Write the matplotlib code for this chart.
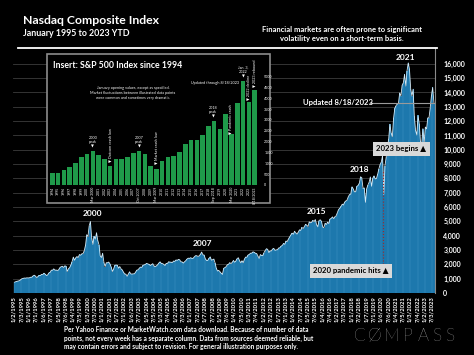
import numpy as np
import matplotlib
matplotlib.use("Agg")
import matplotlib.pyplot as plt
from matplotlib.patches import Rectangle
from matplotlib.lines import Line2D

plt.rcParams['font.family'] = ['Lato', 'DejaVu Sans']

# ---------------- data ----------------
start_year = 1995
nasdaq_1995_1999 = [755, 793, 817, 843, 865, 933, 1001, 1020, 1044, 1036, 1059, 1052,
                    1060, 1100, 1101, 1191, 1243, 1185, 1081, 1141, 1226, 1222, 1293, 1291,
                    1380, 1309, 1222, 1261, 1400, 1442, 1594, 1587, 1686, 1594, 1601, 1570,
                    1619, 1771, 1835, 1868, 1779, 1895, 1872, 1499, 1694, 1771, 1950, 2193,
                    2506, 2288, 2461, 2543, 2471, 2686, 2638, 2739, 2746, 2966, 3336, 4069]
nasdaq_2000_2004 = [3940, 4697, 4990, 3861, 3401, 3966, 3767, 4206, 3673, 3370, 2598, 2471,
                    2773, 2152, 1840, 2116, 2110, 2161, 2027, 1805, 1499, 1690, 1931, 1950,
                    1934, 1731, 1845, 1688, 1616, 1463, 1328, 1315, 1172, 1330, 1479, 1336,
                    1321, 1338, 1341, 1464, 1596, 1623, 1735, 1810, 1787, 1932, 1960, 2003,
                    2066, 2030, 1994, 1920, 1987, 2048, 1887, 1838, 1897, 1975, 2097, 2175]
nasdaq_2005_2009 = [2062, 2052, 1999, 1922, 2068, 2057, 2185, 2152, 2152, 2120, 2233, 2205,
                    2306, 2281, 2340, 2323, 2179, 2172, 2091, 2184, 2258, 2367, 2432, 2415,
                    2464, 2416, 2422, 2525, 2605, 2603, 2546, 2596, 2701, 2859, 2661, 2652,
                    2389, 2271, 2279, 2413, 2523, 2293, 2326, 2368, 2092, 1721, 1536, 1577,
                    1476, 1378, 1300, 1717, 1774, 1835, 1979, 2009, 2122, 2045, 2145, 2269]
nasdaq_2010_2014 = [2147, 2238, 2398, 2461, 2257, 2109, 2255, 2114, 2369, 2507, 2498, 2653,
                    2700, 2782, 2781, 2874, 2835, 2774, 2756, 2579, 2415, 2684, 2620, 2605,
                    2814, 2966, 3092, 3046, 2827, 2935, 2940, 3067, 3116, 2977, 3010, 3020,
                    3142, 3160, 3268, 3329, 3456, 3403, 3626, 3590, 3771, 3920, 4060, 4177,
                    4104, 4308, 4199, 4115, 4243, 4408, 4370, 4580, 4493, 4631, 4792, 4736]
nasdaq_2015_2019 = [4635, 4964, 4901, 4941, 5070, 4987, 5128, 4777, 4620, 5054, 5109, 5007,
                    4614, 4558, 4870, 4775, 4948, 4843, 5162, 5213, 5312, 5189, 5324, 5383,
                    5615, 5825, 5912, 6048, 6199, 6140, 6348, 6429, 6496, 6728, 6874, 6903,
                    7411, 7273, 7063, 7066, 7442, 7510, 7672, 8110, 8046, 7306, 7331, 6333,
                    7282, 7533, 7729, 8095, 7453, 8006, 8175, 7963, 7999, 8292, 8665, 8973]
nasdaq_2020_2023 = [9151, 9600, 6880, 8889, 9490, 10058, 10745, 11775, 11168, 10911, 12199, 12888,
                    13070, 13192, 13247, 13962, 13749, 14504, 14673, 15259, 14448, 15498, 16057, 15645,
                    14240, 13751, 14221, 12335, 11354, 11029, 12391, 11816, 10576, 10321, 11468, 10466,
                    11585, 11456, 12222, 12227, 12936, 13788, 14346, 13290]
nasdaq_monthly = (nasdaq_1995_1999 + nasdaq_2000_2004 + nasdaq_2005_2009 +
                  nasdaq_2010_2014 + nasdaq_2015_2019 + nasdaq_2020_2023)

label_years = list(range(1995, 2024))
label_days_jan = [2, 1, 6, 5, 4, 3, 1, 7, 6, 5, 3, 2, 1, 7, 5, 4, 3, 2, 7, 6, 5, 4, 2, 1, 7, 6, 4, 3, 2]
label_days_jul = [3, 1, 7, 6, 5, 3, 2, 1, 7, 5, 4, 3, 2, 7, 6, 5, 4, 2, 1, 7, 6, 4, 3, 2, 1, 6, 5, 4, 3]

y_ticks = list(range(0, 16001, 1000))

sp_labels = ["1994", "1995", "1996", "1997", "1998", "1999", "2000", "Mar 2000", "2001", "2002",
             "2003", "2004", "2005", "2006", "2007", "Oct 2007", "2008", "2009", "Mar 2009",
             "2010", "2011", "2012", "2013", "2014", "2015", "2016", "2017", "2018", "Sep 2018",
             "2019", "2020", "Mar 2020", "2021", "2022", "2023", "8/18/2023"]
sp_values = [538, 538, 692, 846, 1031, 1308, 1431, 1585, 1385, 1185,
             892, 1185, 1215, 1308, 1462, 1585, 1415, 877, 723,
             1123, 1308, 1338, 1523, 1877, 2077, 2077, 2308, 2738, 2954,
             2569, 3262, 2338, 3769, 4800, 3846, 4385]
sp_ticks = list(range(0, 5001, 500))

# ---------------- helpers ----------------
W, H = 474, 355
def fx(x): return x / W
def fy(y): return 1 - y / H

BLUE = '#1d78ad'
GREEN = '#1f9a4a'
FONTS = ['Lato', 'DejaVu Sans']

fig = plt.figure(figsize=(4.74, 3.55), dpi=100, facecolor='black')

# ---------------- main chart ----------------
ax = fig.add_axes([fx(13), fy(293), (435 - 13) / W, (293 - 48) / H])
ax.set_facecolor('black')
xs = start_year + np.arange(len(nasdaq_monthly)) / 12
vals = np.array(nasdaq_monthly)
ax.bar(xs, vals, width=1 / 12, align='edge', color=BLUE, linewidth=0, zorder=2)

tick_x = []
tick_lbl = []
for i, yr in enumerate(label_years):
    tick_x.append(yr + (label_days_jan[i] - 1) / 365)
    tick_lbl.append(f"1/{label_days_jan[i]}/{yr}")
    tick_x.append(yr + 0.5 + (label_days_jul[i] - 1) / 365)
    tick_lbl.append(f"7/{label_days_jul[i]}/{yr}")
tick_x = np.array(tick_x)
ax.vlines(tick_x, 0, np.interp(tick_x, xs + 1 / 24, vals), color='#5fa8d3', lw=0.35,
          alpha=0.55, zorder=2.5)
ax.plot(xs + 1 / 24, vals, color='#d4ebf8', lw=0.6, zorder=3)

ax.set_xlim(1994.93, 2023.70)
ax.set_ylim(0, 17100)
ax.yaxis.tick_right()
ax.set_yticks(y_ticks)
ax.set_yticklabels([f"{v:,}" for v in y_ticks])
ax.tick_params(axis='y', length=0, pad=6, labelsize=5, labelcolor='white')
ax.set_xticks(tick_x)
ax.set_xticklabels(tick_lbl, rotation=90)
ax.tick_params(axis='x', length=0, pad=2, labelsize=4.2, labelcolor='white')
for t in ax.get_yticklabels() + ax.get_xticklabels():
    t.set_fontweight('bold')
for s in ['top', 'left', 'bottom']:
    ax.spines[s].set_visible(False)
ax.spines['right'].set_color('#8a8a8a')
ax.spines['right'].set_linewidth(0.8)
ax.grid(axis='y', color='#3c3c3c', lw=0.6, zorder=0)
ax.set_axisbelow(True)

# ---------------- header ----------------
fig.text(fx(23), fy(20.5), "Nasdaq Composite Index", color='white', fontsize=8.8,
         fontweight='bold', va='center', ha='left')
fig.text(fx(23), fy(33.5), "January 1995 to 2023 YTD", color='white', fontsize=6.4,
         fontweight='bold', va='center', ha='left')
fig.text(fx(342), fy(29.5), "Financial markets are often prone to significant", color='white',
         fontsize=5.5, fontweight='bold', va='center', ha='center')
fig.text(fx(342), fy(38.7), "volatility even on a short-term basis.", color='white',
         fontsize=5.5, fontweight='bold', va='center', ha='center')
fig.add_artist(Line2D([fx(18), fx(437)], [fy(48), fy(48)], color='white', lw=1.3))

# ---------------- main annotations ----------------
for txt, px, py in [("2000", 92, 214), ("2007", 202, 244), ("2015", 316, 211),
                    ("2018", 359, 169), ("2021", 405, 57)]:
    fig.text(fx(px), fy(py), txt, color='white', fontsize=6, fontweight='bold',
             ha='center', va='center')
fig.text(fx(338), fy(102), "Updated 8/18/2023", color='white', fontsize=5.6,
         fontweight='bold', ha='center', va='center')
fig.add_artist(Line2D([fx(370), fx(434)], [fy(102.5), fy(102.5)], color='#9a9a9a', lw=0.8))

fig.text(fx(401.5), fy(149), "2023 begins \u25B2", color='black', fontsize=5.6,
         fontweight='bold', ha='center', va='center', family=FONTS,
         bbox=dict(boxstyle='square,pad=0.45', fc='#d9d9d9', ec='none'))
fig.add_artist(Line2D([fx(383), fx(383)], [fy(264), fy(170)], color='#a02828', lw=0.8,
                      linestyle=':', zorder=5))
fig.text(fx(351), fy(271), "2020 pandemic hits \u25B2", color='black', fontsize=5.6,
         fontweight='bold', ha='center', va='center', family=FONTS, zorder=6,
         bbox=dict(boxstyle='square,pad=0.45', fc='#d9d9d9', ec='none'))

# ---------------- inset ----------------
box = Rectangle((fx(47), fy(203)), (270 - 47) / W, (203 - 54) / H, transform=fig.transFigure,
                facecolor='black', edgecolor='#8c8c8c', lw=1.2, zorder=1)
fig.add_artist(box)

ax2 = fig.add_axes([fx(48.3), fy(185), (258.7 - 48.3) / W, (185 - 61.3) / H])
ax2.set_zorder(2)
ax2.patch.set_alpha(0)
ix = np.arange(len(sp_values))
ax2.bar(ix, sp_values, width=0.78, color=GREEN, linewidth=0)
ax2.set_xlim(-0.7, len(sp_values) - 0.3)
ax2.set_ylim(0, 5700)
ax2.yaxis.tick_right()
ax2.set_yticks(sp_ticks)
ax2.tick_params(axis='y', length=0, pad=4, labelsize=2.6, labelcolor='white')
ax2.set_xticks(ix)
ax2.set_xticklabels(sp_labels, rotation=90)
ax2.tick_params(axis='x', length=0, pad=1.5, labelsize=2.5, labelcolor='white')
for s in ax2.spines.values():
    s.set_visible(False)

fig.text(fx(53), fy(65.5), "Insert: S&P 500 Index since 1994", color='white', fontsize=6.3,
         fontweight='bold', ha='left', va='center', zorder=4)
fig.text(fx(133), fy(93), "January opening values, except as specified.\nMarket fluctuations between illustrated data points\nwere common and sometimes very dramatic.",
         color='white', fontsize=2.7, ha='center', va='center', linespacing=1.5, zorder=4)
fig.text(fx(215), fy(83), "Updated through 8/18/2023", color='white', fontsize=2.7,
         ha='center', va='center', zorder=4)

for txt, px, py in [("2000\npeak", 92.8, 140), ("2007\npeak", 139, 140),
                    ("2018\npeak", 213, 110), ("Jan. 3,\n2022", 243, 70)]:
    fig.text(fx(px), fy(py), txt, color='white', fontsize=2.7, ha='center', va='center',
             linespacing=1.3, zorder=4)
    fig.text(fx(px), fy(py + 7), "\u25BC", color='white', fontsize=2.7, ha='center',
             va='center', family=FONTS, zorder=4)
for txt, px, py in [("\u25BC Dotcom crash low", 110, 145), ("\u25BC Market crash low", 156, 148),
                    ("\u25BC Pandemic crash", 231, 119), ("\u25BC 2022 decline", 249, 87),
                    ("\u25BC 2023 rebound", 254.7, 73)]:
    fig.text(fx(px), fy(py), txt, color='white', fontsize=2.7, ha='center', va='center',
             rotation=90, family=FONTS, zorder=4)

# ---------------- footer ----------------
foot = ["Per Yahoo Finance or MarketWatch.com data download. Because of number of data",
        "points, not every week has a separate column. Data from sources deemed reliable, but",
        "may contain errors and subject to revision. For general illustration purposes only."]
for i, line in enumerate(foot):
    fig.text(fx(64), fy(330 + i * 8.3), line, color='white', fontsize=4.7, fontweight='bold',
             ha='left', va='center')
for ch, px in zip("C\u00d8MPASS", [360, 375, 392, 408, 423, 437, 450]):
    fig.text(fx(px), fy(336), ch, color='white', fontsize=12.5, fontweight='light',
             ha='center', va='center')

fig.savefig("out.png", dpi=100, facecolor='black')
